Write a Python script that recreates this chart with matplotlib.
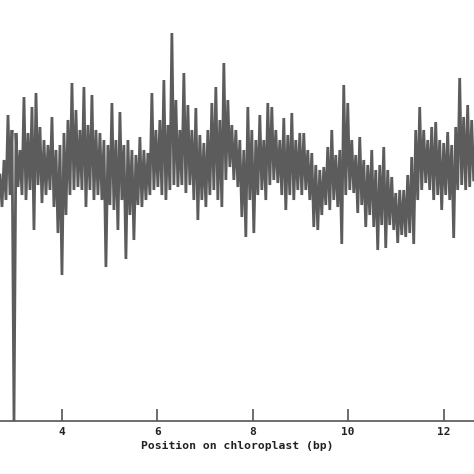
import numpy as np
import matplotlib
matplotlib.use("Agg")
import matplotlib.pyplot as plt

x_start = 2.70
x_step = 0.0419
peak_vals = [246, 261, 306, 291, 288, 271, 324, 288, 314, 328, 294, 281, 276, 304, 271, 276,
             288, 301, 338, 311, 291, 334, 296, 326, 291, 288, 281, 276, 318, 281, 309, 276,
             281, 271, 266, 284, 271, 268, 328, 291, 301, 341, 296, 388, 321, 291, 348, 316,
             291, 313, 286, 278, 291, 318, 334, 301, 358, 321, 296, 291, 281, 271, 314, 291,
             281, 306, 281, 318, 314, 291, 281, 303, 286, 308, 281, 288, 288, 271, 268, 256,
             251, 254, 274, 291, 266, 271, 336, 318, 281, 266, 284, 261, 256, 271, 251, 256,
             274, 251, 244, 228, 231, 231, 246, 264, 291, 314, 291, 281, 294, 299, 281, 278,
             289, 276, 294, 343, 304, 316, 301]
trough_vals = [214, 221, 226, 0, 234, 226, 221, 231, 191, 236, 218, 226, 231, 214, 188, 146,
               206, 226, 231, 234, 231, 214, 231, 221, 226, 221, 154, 216, 211, 191, 221, 162,
               206, 181, 216, 214, 221, 226, 231, 234, 226, 221, 231, 236, 234, 236, 228, 236,
               221, 201, 221, 214, 226, 231, 221, 214, 241, 254, 241, 234, 204, 184, 221, 188,
               226, 231, 221, 236, 241, 238, 226, 211, 226, 221, 231, 226, 231, 221, 194, 191,
               206, 216, 211, 221, 214, 177, 226, 231, 228, 208, 216, 194, 206, 194, 171, 196,
               173, 196, 191, 178, 186, 184, 188, 177, 221, 231, 238, 231, 221, 226, 211, 226,
               221, 183, 231, 236, 231, 234, 241]

depth = np.empty(2 * len(peak_vals))
depth[0::2] = peak_vals
depth[1::2] = trough_vals
position = x_start + np.arange(len(depth)) * x_step

fig = plt.figure(figsize=(4.74, 4.74), dpi=100)
ax = fig.add_axes([0, 53 / 474, 1, 421 / 474])

ax.plot(position, depth, color="#5c5c5c", lw=2.0, solid_joinstyle="miter")

ax.set_xlim(2.70, 12.637)
ax.set_ylim(0, 421)
ax.set_xticks([4, 6, 8, 10, 12])
for side in ["top", "left", "right"]:
    ax.spines[side].set_visible(False)
ax.spines["bottom"].set_color("#555555")
ax.spines["bottom"].set_linewidth(1.2)
ax.set_yticks([])
ax.tick_params(axis="x", direction="in", length=9, width=1.2, color="#555555", pad=4,
               labelsize=8, labelcolor="#222222")
for lab in ax.get_xticklabels():
    lab.set_fontfamily("DejaVu Sans Mono")
    lab.set_fontweight("bold")
ax.set_xlabel("Position on chloroplast (bp)", fontsize=8.2, family="DejaVu Sans Mono",
              fontweight="bold", color="#222222", labelpad=3)

fig.savefig("out.png", dpi=100)
